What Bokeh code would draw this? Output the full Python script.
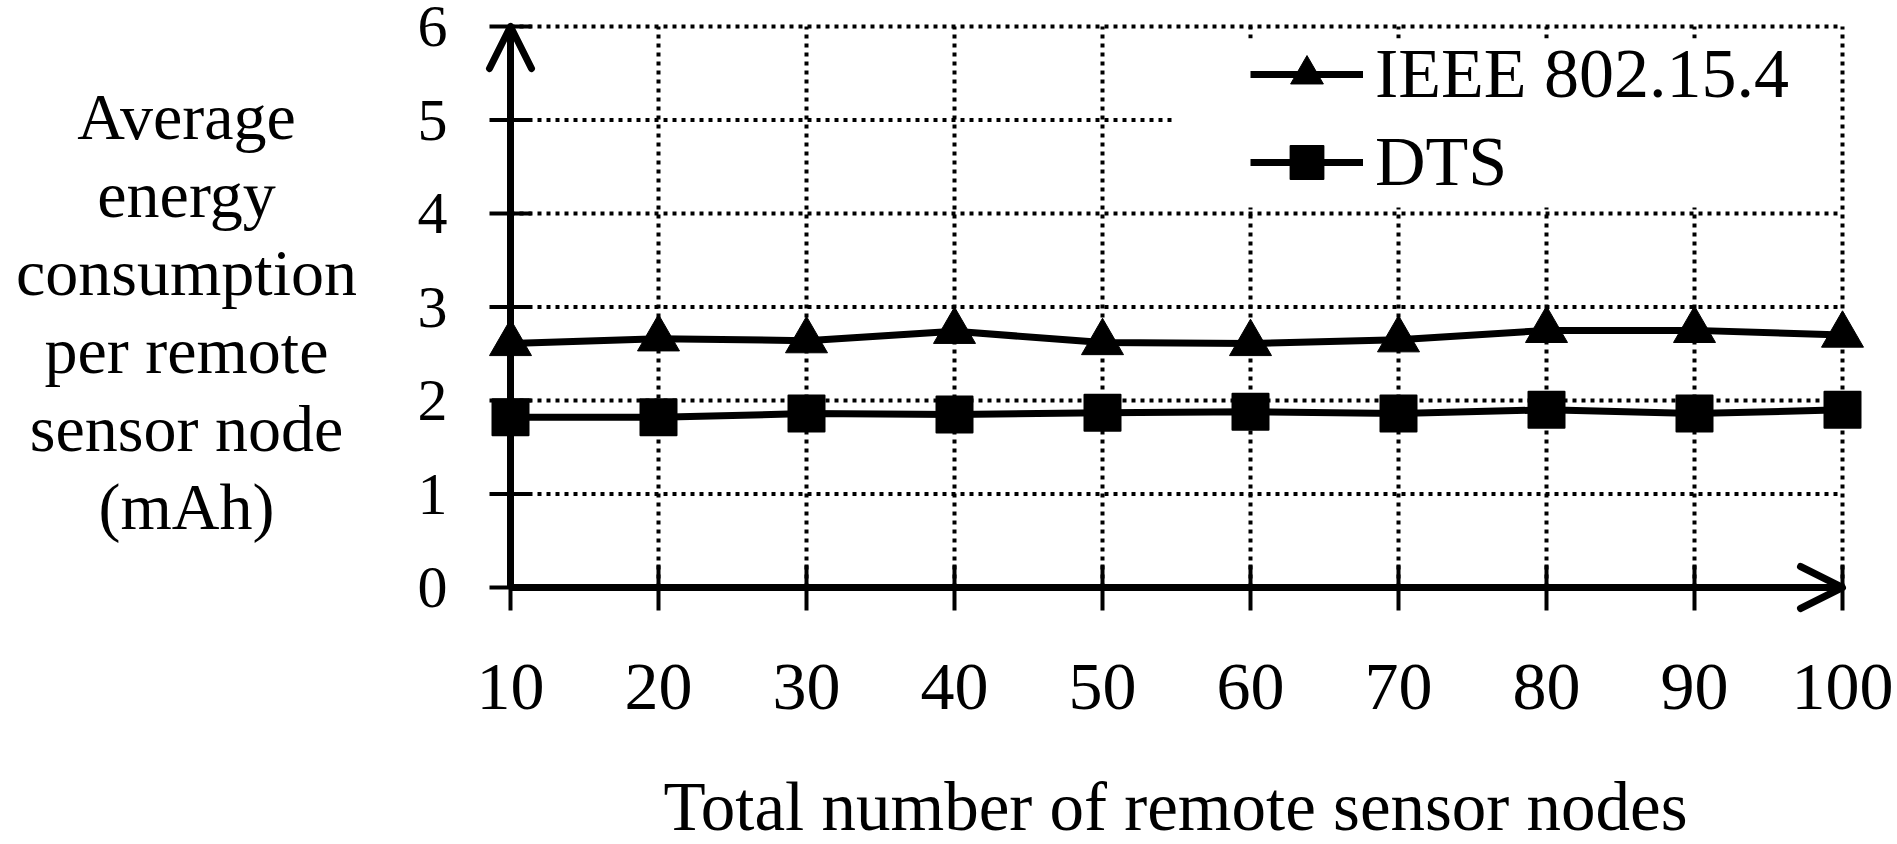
import math
from bokeh.plotting import figure
from bokeh.models import (Range1d, Arrow, OpenHead, Legend, LegendItem, Label,
                          BoxAnnotation, ColumnDataSource)
from bokeh.embed import file_html
from bokeh.resources import INLINE
from bokeh.core.properties import value

# ---------------- data ----------------
nodes = [10, 20, 30, 40, 50, 60, 70, 80, 90, 100]
ieee = [2.61, 2.66, 2.64, 2.74, 2.62, 2.61, 2.65, 2.75, 2.75, 2.70]
dts = [1.82, 1.82, 1.86, 1.85, 1.87, 1.88, 1.86, 1.90, 1.86, 1.90]
y_ticks = [0, 1, 2, 3, 4, 5, 6]
x_tick_labels = [str(v) for v in nodes]
y_tick_labels = [str(v) for v in y_ticks]
series_names = ["IEEE 802.15.4", "DTS"]
x_title = "Total number of remote sensor nodes"
y_title = "Average\nenergy\nconsumption\nper remote\nsensor node\n(mAh)"

# ---------------- layout (pixels, page coordinates) ----------------
FONT = "Liberation Serif"
PAGE = 0
W, H = 1897, 844
AX_L, AX_R = 510, 1842   # page x of first / last x tick
AX_T, AX_B = 26, 587     # page y of top / bottom y tick
x0, x1 = nodes[0], nodes[-1]
y0, y1 = y_ticks[0], y_ticks[-1]
xpp = (x1 - x0) / (AX_R - AX_L)
ypp = (y1 - y0) / (AX_B - AX_T)


def sx(px):  # page x -> frame-relative screen x (frame == canvas)
    return px - PAGE


def sy(py):  # page y -> frame-relative screen y measured upward
    return PAGE + H - py


p = figure(width=W, height=H,
           x_range=Range1d(x0 - (AX_L - PAGE) * xpp, x1 + (PAGE + W - AX_R) * xpp),
           y_range=Range1d(y0 - (PAGE + H - AX_B) * ypp, y1 + (AX_T - PAGE) * ypp),
           x_axis_type=None, y_axis_type=None,
           output_backend="svg", toolbar_location=None,
           min_border=0, min_border_left=0, min_border_right=0,
           min_border_top=0, min_border_bottom=0)
p.outline_line_color = None
p.background_fill_color = "white"
p.border_fill_color = "white"

# ---------------- dotted grid ----------------
p.segment(x0=nodes, y0=[y0] * len(nodes), x1=nodes, y1=[y1] * len(nodes),
          line_color="black", line_width=4, line_dash="4 5", level="underlay")
p.segment(x0=[x0] * len(y_ticks), y0=y_ticks, x1=[x1] * len(y_ticks), y1=y_ticks,
          line_color="black", line_width=4, line_dash="4 5", level="underlay")

# ---------------- axes: lines with arrow heads, cross ticks, labels ----------------
for xs, ys, xe, ye in [(x0, y0, x0, y1), (x0, y0, x1, y0)]:
    p.add_layout(Arrow(end=OpenHead(size=42, line_width=7, line_color="black",
                                    line_cap="round", line_join="round"),
                       x_start=xs, y_start=ys, x_end=xe, y_end=ye,
                       line_width=7, line_color="black"))

p.scatter(x=[x0] * len(y_ticks), y=y_ticks, marker="dash", size=42,
          line_color="black", line_width=4)
p.scatter(x=nodes, y=[y0] * len(nodes), marker="dash", size=46, angle=math.pi / 2,
          line_color="black", line_width=4)

p.text(x=nodes, y=[y0] * len(nodes), text=x_tick_labels, y_offset=99,
       text_font=value(FONT), text_font_size="68px", text_color="black",
       text_align="center", text_baseline="middle")
p.text(x=[x0] * len(y_ticks), y=y_ticks, text=y_tick_labels, x_offset=-63, y_offset=0,
       text_font=value(FONT), text_font_size="60px", text_color="black",
       text_align="right", text_baseline="middle")

# ---------------- series ----------------
src = ColumnDataSource(dict(nodes=nodes, ieee=ieee, dts=dts))
l1 = p.line("nodes", "ieee", source=src, line_width=7, line_color="black")
m1 = p.scatter("nodes", "ieee", source=src, marker="triangle", size=42,
               fill_color="black", line_color="black", line_width=1)
l2 = p.line("nodes", "dts", source=src, line_width=7, line_color="black")
m2 = p.scatter("nodes", "dts", source=src, marker="square", size=36,
               fill_color="black", line_color="black", line_width=2, line_join="round")

# ---------------- legend ----------------
p.add_layout(BoxAnnotation(left=sx(1172), right=sx(1838), top=sy(38), bottom=sy(207),
                           left_units="screen", right_units="screen",
                           top_units="screen", bottom_units="screen",
                           fill_color="white", fill_alpha=1, line_color=None))
legend = Legend(items=[LegendItem(label=series_names[0], renderers=[l1, m1]),
                       LegendItem(label=series_names[1], renderers=[l2, m2])],
                location=(sx(1250), sy(203)),
                glyph_width=113, glyph_height=82, label_height=82,
                spacing=6, padding=0, margin=0, label_standoff=12,
                label_text_font=FONT, label_text_font_size="70px",
                label_text_color="black",
                background_fill_alpha=0, border_line_alpha=0)
p.add_layout(legend)

# ---------------- titles ----------------
p.add_layout(Label(x=sx(1175), y=sy(806), x_units="screen", y_units="screen",
                   text=x_title, text_font=FONT, text_font_size="69px",
                   text_color="black", text_align="center", text_baseline="middle"))
p.add_layout(Label(x=sx(186), y=sy(311), x_units="screen", y_units="screen",
                   text=y_title, text_font=FONT, text_font_size="66px",
                   text_color="black", text_align="center", text_baseline="middle",
                   text_line_height=1.07))

open("out.html", "w").write(file_html(p, INLINE))
